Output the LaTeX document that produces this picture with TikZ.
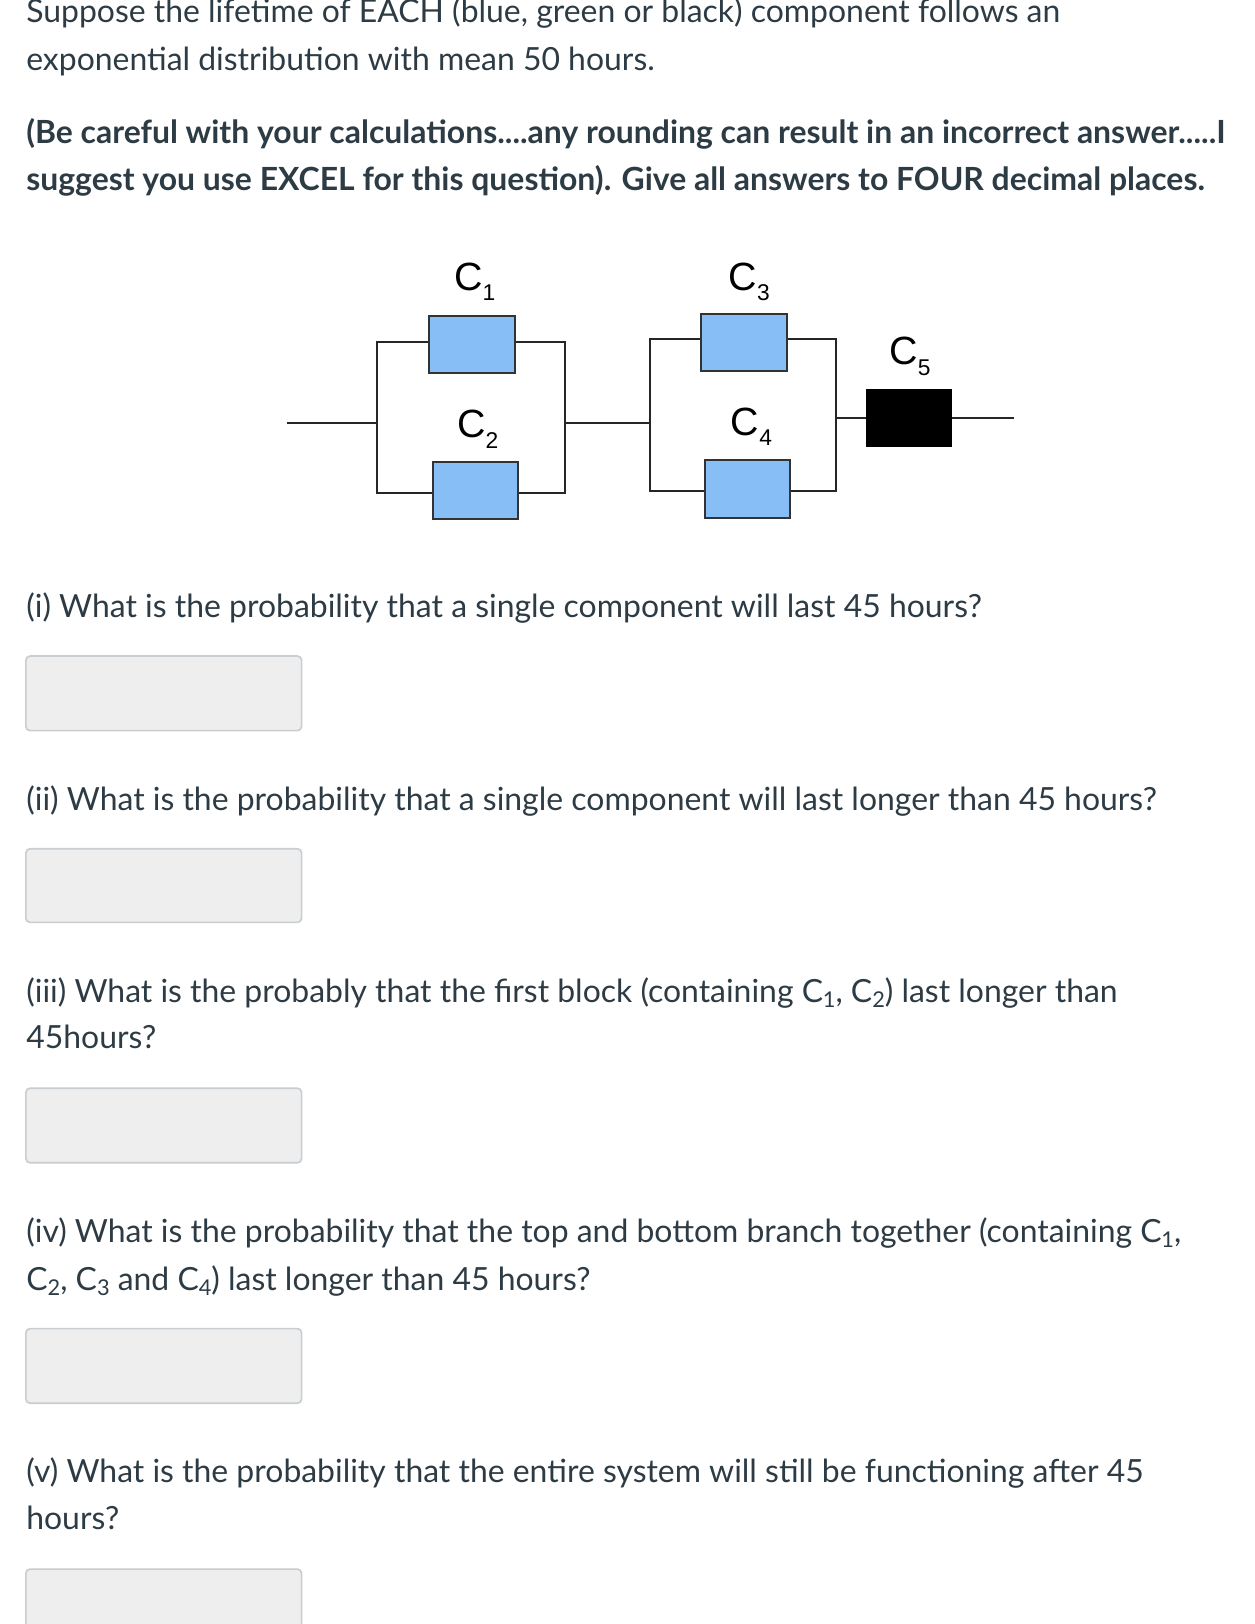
\documentclass[tikz,border=0pt]{standalone}
\usepackage{fontspec}
\setmainfont{Lato}
\newfontfamily\arialf{Liberation Sans}
\definecolor{txt}{HTML}{2D3B45}
\definecolor{cblue}{HTML}{86BEF5}
\definecolor{ansfill}{HTML}{EEEEEE}
\definecolor{ansdraw}{HTML}{C7CDD1}
\newcommand{\sbs}[1]{\raisebox{-0.3ex}{\fontsize{10.5}{10.5}\selectfont #1}}
\begin{document}
\begin{tikzpicture}[x=0.5pt,y=-0.5pt,
  q/.style={anchor=base west,inner sep=0pt,text=txt,font=\fontsize{15.4}{23}\selectfont},
  qb/.style={q,font=\fontsize{15.4}{23}\selectfont\bfseries},
  ans/.style={fill=ansfill,draw=ansdraw,line width=0.8pt,rounded corners=2pt},
  comp/.style={draw=black!80,line width=1pt,fill=cblue},
  wire/.style={line width=1pt,black!85},
  lab/.style={inner sep=0pt,font=\arialf\fontsize{19}{19}\selectfont}]
\useasboundingbox (0,0) rectangle (1210,1567);
\node[q] (t1) at (25,22) {Suppose the lifetime of EACH (blue, green or black) component follows an};
\node[q] (t2) at (25,68) {exponential distribution with mean 50 hours.};
\node[qb] (t3) at (25,138) {(Be careful with your calculations....any rounding can result in an incorrect answer.....I};
\node[qb] (t4) at (25,184) {suggest you use EXCEL for this question). Give all answers to FOUR decimal places.};
% diagram
\draw[wire] (277,408) -- (364,408);
\draw[wire] (364,330) rectangle (545,476);
\draw[wire] (545,408) -- (627,408);
\draw[wire] (627,327) rectangle (807,474);
\draw[wire] (807,403) -- (836,403);
\draw[wire] (919,403) -- (978,403);
\draw[comp] (414,305) rectangle (497,360);
\draw[comp] (418,446) rectangle (500,501);
\draw[comp] (676,303) rectangle (759,358);
\draw[comp] (680,444) rectangle (762,500);
\fill[black] (836,375) rectangle (919,431);
\node[lab] (l1) at (458,272) {C\raisebox{-0.5ex}{\fontsize{11}{11}\selectfont 1}};
\node[lab] (l2) at (461,414) {C\raisebox{-0.5ex}{\fontsize{11}{11}\selectfont 2}};
\node[lab] (l3) at (723,272) {C\raisebox{-0.5ex}{\fontsize{11}{11}\selectfont 3}};
\node[lab] (l4) at (725,412) {C\raisebox{-0.5ex}{\fontsize{11}{11}\selectfont 4}};
\node[lab] (l5) at (878,344) {C\raisebox{-0.5ex}{\fontsize{11}{11}\selectfont 5}};
% questions
\node[q] (q1) at (25,596) {(i) What is the probability that a single component will last 45 hours?};
\draw[ans] (25,633) rectangle (291,705);
\node[q] (q2) at (25,782) {(ii) What is the probability that a single component will last longer than 45 hours?};
\draw[ans] (25,819) rectangle (291,890);
\node[q] (q3) at (25,967) {(iii) What is the probably that the first block (containing C\sbs{1}, C\sbs{2}) last longer than};
\node[q] (q3b) at (25,1012) {45hours?};
\draw[ans] (25,1050) rectangle (291,1122);
\node[q] (q4) at (25,1199) {(iv) What is the probability that the top and bottom branch together (containing C\sbs{1},};
\node[q] (q4b) at (25,1245) {C\sbs{2}, C\sbs{3} and C\sbs{4}) last longer than 45 hours?};
\draw[ans] (25,1282) rectangle (291,1354);
\node[q] (q5) at (25,1430) {(v) What is the probability that the entire system will still be functioning after 45};
\node[q] (q5b) at (25,1476) {hours?};
\draw[ans] (25,1514) rectangle (291,1600);
\end{tikzpicture}
\end{document}
